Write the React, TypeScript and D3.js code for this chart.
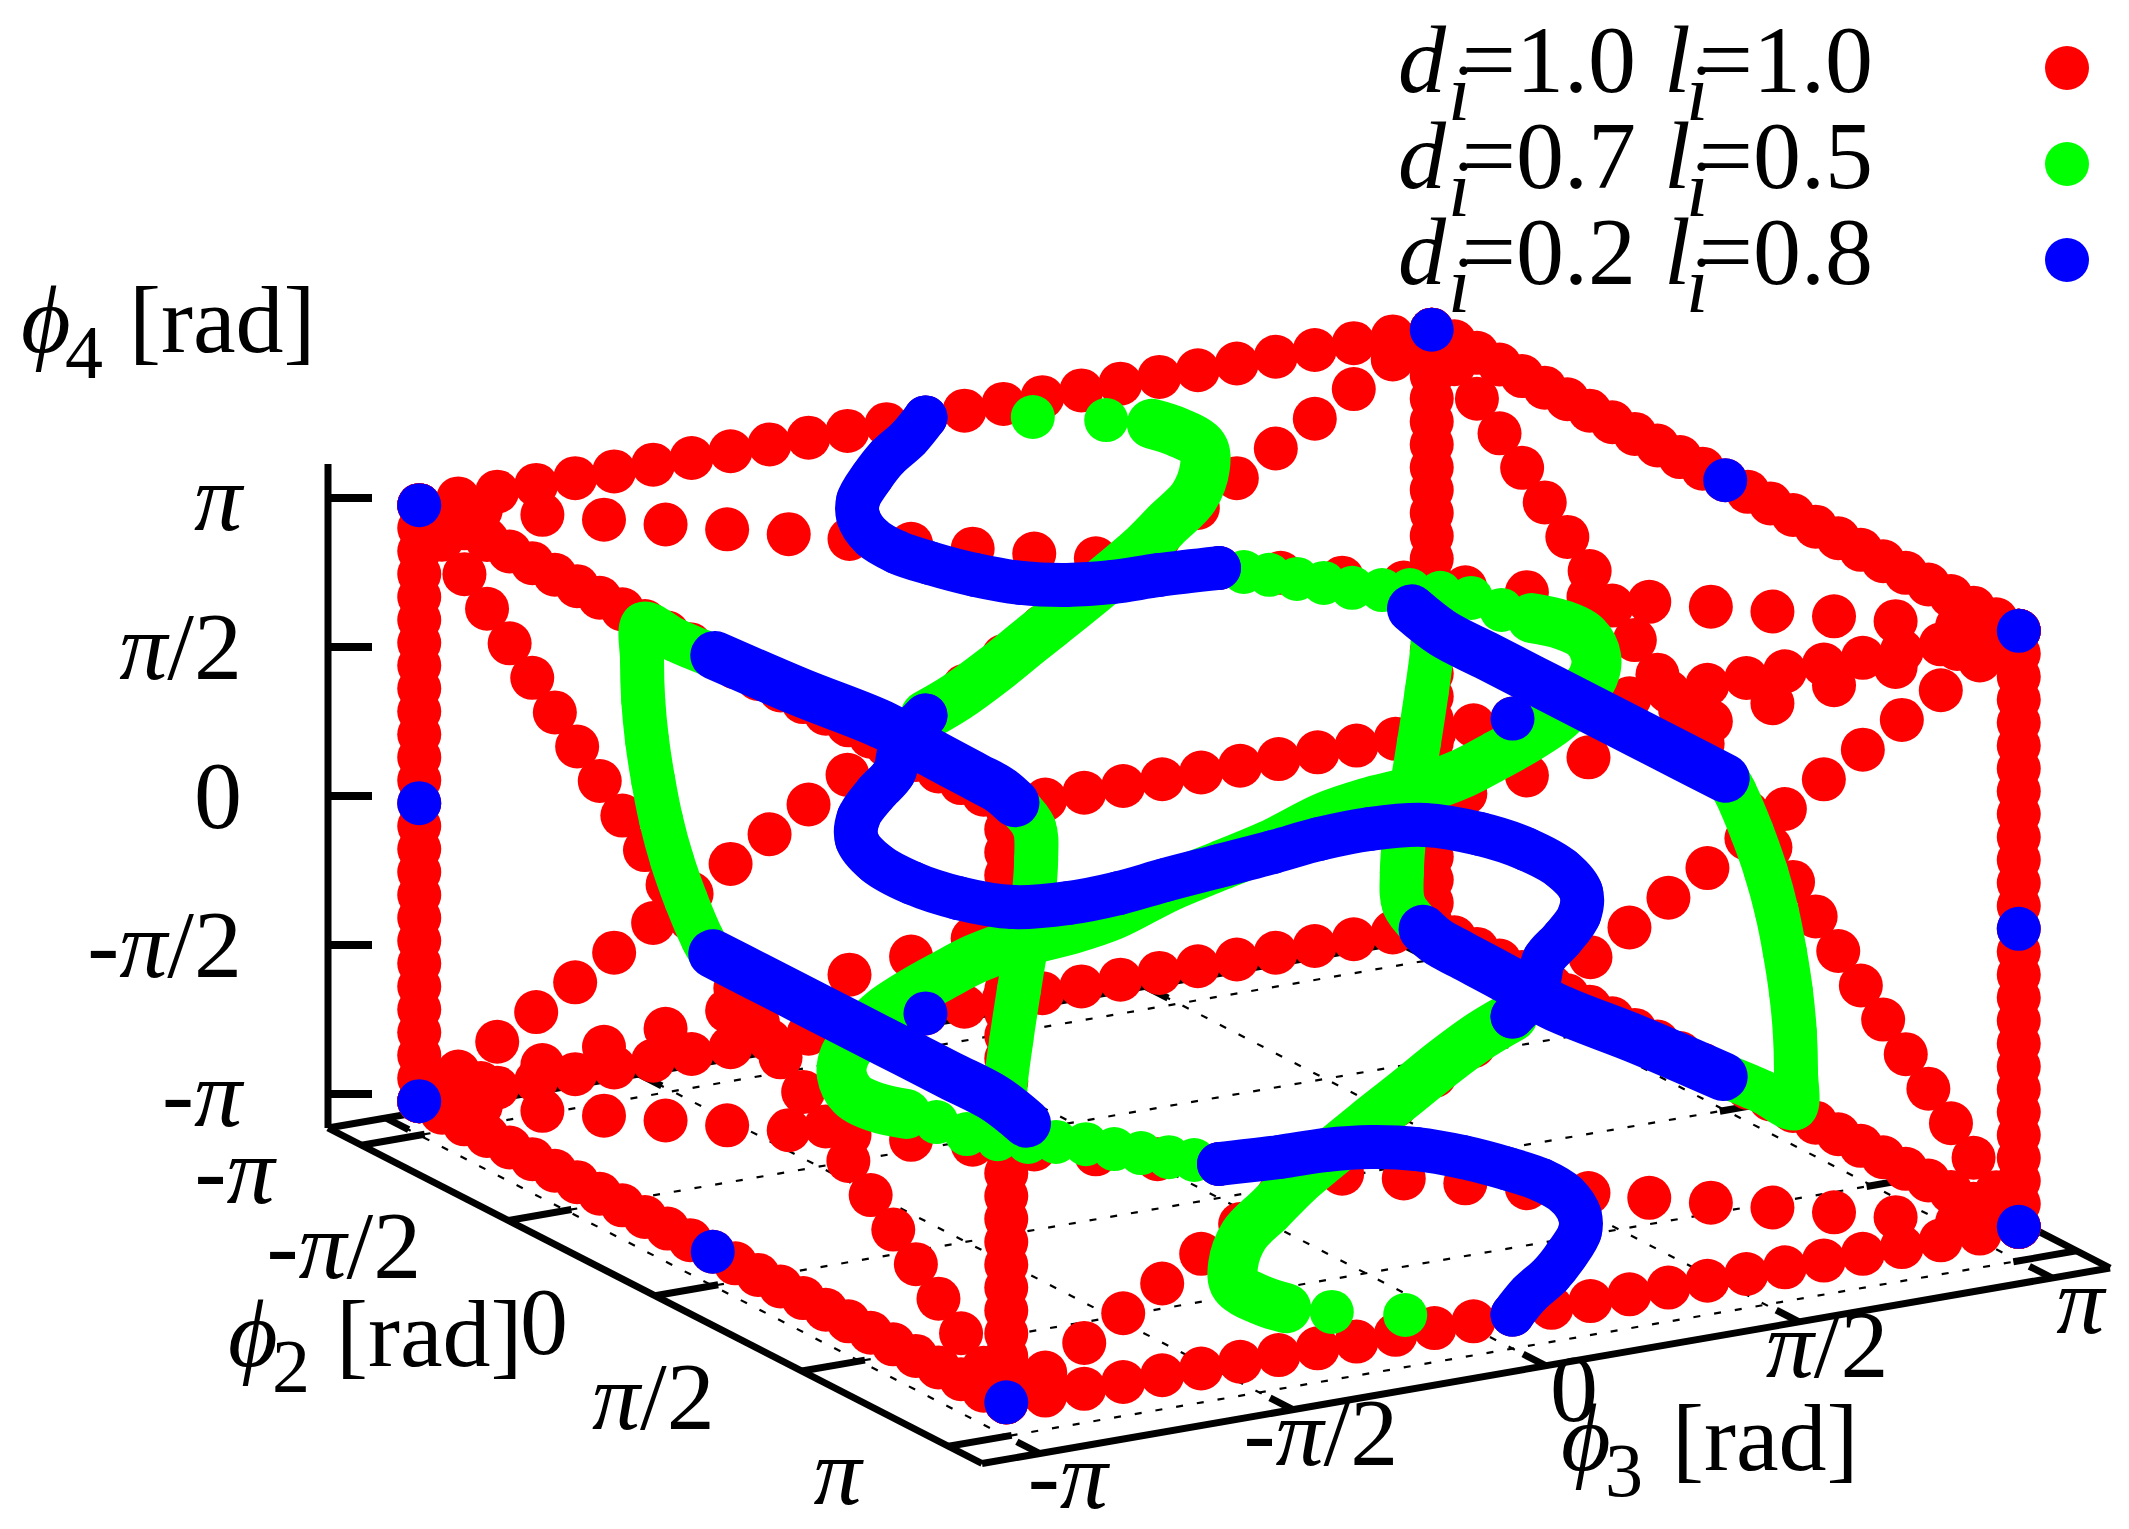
import React from 'react';
import * as d3 from 'd3';

// all angles below are in units of pi: [phi2, phi3, phi4]
type P3 = number[];

const width = 2129;
const height = 1529;
const axisMax = 3.5 / Math.PI;

const tickValues = [-1, -0.5, 0, 0.5, 1];
const tickLabels = ['-π', '-π/2', '0', 'π/2', 'π'];

const legendD = ['1.0', '0.7', '0.2'];
const legendL = ['1.0', '0.5', '0.8'];
const seriesColors = ['#ff0000', '#00ff00', '#0000ff'];

// sampling of the d=1.0, l=1.0 solution branches
const redAngles = [
  -1, -0.923, -0.846, -0.769, -0.692, -0.615, -0.538, -0.462, -0.385, -0.308, -0.231, -0.154, -0.077,
  0, 0.077, 0.154, 0.231, 0.308, 0.385, 0.462, 0.538, 0.615, 0.692, 0.769, 0.846, 0.923, 1,
];
// each branch: fixed value, or 't' / '-t' for the running angle
const redBranches: (number | string)[][] = [
  [-1, -1, 't'], [1, -1, 't'], [-1, 1, 't'], [1, 1, 't'],
  ['t', -1, 1], ['t', 1, 1], ['t', -1, -1], ['t', 1, -1],
  [-1, 't', 1], [1, 't', 1], [-1, 't', -1], [1, 't', -1],
  [-1, 't', 't'], [1, 't', 't'],
  ['t', -1, '-t'], ['t', 1, '-t'],
  ['t', 't', 1], ['t', 't', -1],
  ['t', 't', 't'],
];

// d=0.7, l=0.5
const greenDots: P3[] = [
  [-1, 0.212, 0.939], [-1, 0.357, 0.886],
  [1, -0.212, -0.939], [1, -0.357, -0.886],
  [0, 0.049, 0.972], [0, 0.099, 0.948], [0, 0.154, 0.918], [0, 0.207, 0.889], [0, 0.263, 0.856],
  [0, 0.322, 0.831], [0, 0.377, 0.815], [0, 0.437, 0.788], [0, 0.498, 0.753], [0, 0.558, 0.695],
  [0, 0.618, 0.65],
  [0, -0.049, -0.972], [0, -0.099, -0.948], [0, -0.154, -0.918], [0, -0.207, -0.889], [0, -0.263, -0.856],
  [0, -0.322, -0.831], [0, -0.377, -0.815], [0, -0.437, -0.788], [0, -0.498, -0.753], [0, -0.558, -0.695],
  [0, -0.618, -0.65],
];
const greenBackUpper: P3[] = [
  [-1, 0.447, 0.847], [-1, 0.498, 0.804], [-1, 0.548, 0.739], [-1, 0.552, 0.671], [-1, 0.53, 0.577],
  [-1, 0.479, 0.505], [-1, 0.426, 0.43], [-1, 0.363, 0.358], [-1, 0.29, 0.278], [-1, 0.208, 0.192],
  [-1, 0.135, 0.113], [-1, 0.062, 0.044], [-1, 0, 0],
];
const greenFrontLower: P3[] = [
  [1, -0.447, -0.847], [1, -0.498, -0.804], [1, -0.548, -0.739], [1, -0.552, -0.671], [1, -0.53, -0.577],
  [1, -0.479, -0.505], [1, -0.426, -0.43], [1, -0.363, -0.358], [1, -0.29, -0.278], [1, -0.208, -0.192],
  [1, -0.135, -0.113], [1, -0.062, -0.044], [1, 0, 0],
];
const greenMidPlane: P3[] = [
  [0, -0.618, -0.65], [0, -0.679, -0.609], [0, -0.725, -0.555], [0, -0.745, -0.482], [0, -0.739, -0.417],
  [0, -0.704, -0.35], [0, -0.664, -0.295], [0, -0.603, -0.245], [0, -0.543, -0.206], [0, -0.482, -0.17],
  [0, -0.391, -0.14], [0, -0.29, -0.126], [0, -0.209, -0.103], [0, -0.1, -0.041], [0, 0, 0],
  [0, 0.1, 0.041], [0, 0.209, 0.103], [0, 0.29, 0.126], [0, 0.391, 0.14], [0, 0.482, 0.17],
  [0, 0.543, 0.206], [0, 0.603, 0.245], [0, 0.664, 0.295], [0, 0.704, 0.35], [0, 0.739, 0.417],
  [0, 0.745, 0.482], [0, 0.725, 0.555], [0, 0.679, 0.609], [0, 0.618, 0.65],
];
const greenLeftFace: P3[] = [
  [0, -1, 1], [-0.128, -1, 0.988], [-0.237, -1, 0.987], [-0.241, -1, 0.864], [-0.237, -1, 0.732],
  [-0.224, -1, 0.604], [-0.203, -1, 0.48], [-0.176, -1, 0.36], [-0.139, -1, 0.244], [-0.091, -1, 0.134],
  [-0.033, -1, 0.029], [-0.01, -1, 0],
];
const greenRightFace: P3[] = [
  [0, 1, -1], [0.128, 1, -0.988], [0.237, 1, -0.987], [0.241, 1, -0.864], [0.237, 1, -0.732],
  [0.224, 1, -0.604], [0.203, 1, -0.48], [0.176, 1, -0.36], [0.139, 1, -0.244], [0.091, 1, -0.134],
  [0.033, 1, -0.029], [0.01, 1, 0],
];
const greenFrontEdge: P3[] = [
  [1, -0.98, 1], [1, -0.945, 0.914], [1, -0.941, 0.803], [1, -0.947, 0.67], [1, -0.959, 0.539],
  [1, -0.975, 0.376], [1, -0.99, 0.213], [1, -1.002, 0.049], [1, -1, 0],
];
const greenBackEdge: P3[] = [
  [-1, 0.98, -1], [-1, 0.945, -0.914], [-1, 0.941, -0.803], [-1, 0.947, -0.67], [-1, 0.959, -0.539],
  [-1, 0.975, -0.376], [-1, 0.99, -0.213], [-1, 1.002, -0.049], [-1, 1, 0],
];

// d=0.2, l=0.8
const blueDots: P3[] = [
  [-1, -1, 1], [-1, -1, 0], [-1, -1, -1], [1, -1, -1], [0, -1, -1], [-1, 1, 1],
  [0, 1, 1], [1, 1, 1], [1, 1, 0], [1, 1, -1], [1, 0, 1], [-1, 0, -1],
];
const blueTop: P3[] = [
  [-1, 0, 1], [-0.912, -0.084, 1], [-0.836, -0.17, 1], [-0.75, -0.251, 1], [-0.648, -0.337, 1],
  [-0.563, -0.386, 1], [-0.452, -0.424, 1], [-0.356, -0.43, 1], [-0.274, -0.413, 1], [-0.175, -0.38, 1],
  [-0.096, -0.335, 1], [-0.047, -0.274, 1], [-0.022, -0.197, 1], [-0.017, -0.109, 1], [0, 0, 1],
];
const blueBottom: P3[] = [
  [1, 0, -1], [0.912, 0.084, -1], [0.836, 0.17, -1], [0.75, 0.251, -1], [0.648, 0.337, -1],
  [0.563, 0.386, -1], [0.452, 0.424, -1], [0.356, 0.43, -1], [0.274, 0.413, -1], [0.175, 0.38, -1],
  [0.096, 0.335, -1], [0.047, 0.274, -1], [0.022, 0.197, -1], [0.017, 0.109, -1], [0, 0, -1],
];
const blueMiddle: P3[] = [
  [-1, 0, 0], [-0.884, -0.114, 0], [-0.742, -0.212, 0], [-0.657, -0.297, 0], [-0.553, -0.391, 0],
  [-0.44, -0.46, 0], [-0.31, -0.498, 0], [-0.18, -0.502, 0], [-0.065, -0.477, 0], [0.027, -0.422, 0],
  [0.054, -0.329, 0], [0.048, -0.226, 0], [0.023, -0.12, 0], [0, 0, 0],
  [-0.023, 0.12, 0], [-0.048, 0.226, 0], [-0.054, 0.329, 0], [-0.027, 0.422, 0], [0.065, 0.477, 0],
  [0.18, 0.502, 0], [0.31, 0.498, 0], [0.44, 0.46, 0], [0.553, 0.391, 0], [0.657, 0.297, 0],
  [0.742, 0.212, 0], [0.884, 0.114, 0], [1, 0, 0],
];
const blueUpperBand: P3[] = [
  [0, -0.996, 1], [0.256, -0.976, 1], [0.497, -0.948, 1], [0.664, -0.957, 1], [0.827, -0.96, 1],
  [0.914, -0.962, 1], [0.99, -0.977, 1],
];
const blueLowerBand: P3[] = [
  [0, -1, 0], [0.147, -1, 0], [0.366, -1, 0], [0.587, -1, 0], [0.805, -1, 0],
  [0.962, -1, 0], [1, -0.96, -0.075],
];
const blueBackUpperBand: P3[] = [
  [0, 1, 0], [-0.147, 1, 0], [-0.366, 1, 0], [-0.587, 1, 0], [-0.805, 1, 0],
  [-0.962, 1, 0], [-1, 0.96, 0.075],
];
const blueBackLowerBand: P3[] = [
  [0, 0.996, -1], [-0.256, 0.976, -1], [-0.497, 0.948, -1], [-0.664, 0.957, -1], [-0.827, 0.96, -1],
  [-0.914, 0.962, -1], [-0.99, 0.977, -1],
];

const greenTubes = [greenLeftFace, greenRightFace, greenFrontEdge, greenBackEdge];
const greenWideTubes = [greenBackUpper, greenFrontLower, greenMidPlane];
const blueTubes = [blueTop, blueBottom, blueMiddle];
const blueBands = [blueUpperBand, blueLowerBand, blueBackUpperBand, blueBackLowerBand];

// gnuplot style view: three linear scales per axis, added together
const domain = [-axisMax, axisMax];
const x2 = d3.scaleLinear().domain(domain).range([0, 654]);
const y2 = d3.scaleLinear().domain(domain).range([0, 335.5]);
const x3 = d3.scaleLinear().domain(domain).range([0, 1128]);
const y3 = d3.scaleLinear().domain(domain).range([0, -195.5]);
const z4 = d3.scaleLinear().domain(domain).range([0, -664]);

const project = ([a, b, c]: P3): [number, number] => [
  328 + x2(a) + x3(b),
  1128 + y2(a) + y3(b) + z4(c),
];

const tube = d3.line<P3>()
  .x(d => project(d)[0])
  .y(d => project(d)[1])
  .curve(d3.curveCatmullRom.alpha(0.5));

const redPoints: P3[] = redBranches.flatMap(branch =>
  redAngles.map(t => branch.map(v => (v === 't' ? t : v === '-t' ? -t : (v as number))))
);

const dotRadius = 22;
const serif = '"Liberation Serif", "Times New Roman", serif';

function Txt({ x, y, size = 96, anchor = 'start', italic = false, children }: any) {
  return (
    <text
      x={x}
      y={y}
      fontFamily={serif}
      fontSize={size}
      textAnchor={anchor}
      fontStyle={italic ? 'italic' : 'normal'}
      fill="#000"
    >
      {children}
    </text>
  );
}

// pi is italic, the rest of the tick label is upright
function TickText({ label }: { label: string }) {
  return (
    <>
      {label.split('').map((ch, i) => (
        <tspan key={i} fontStyle={ch === 'π' ? 'italic' : 'normal'}>{ch}</tspan>
      ))}
    </>
  );
}

function Seg({ from, to, w = 7 }: any) {
  return <line x1={from[0]} y1={from[1]} x2={to[0]} y2={to[1]} stroke="#000" strokeWidth={w} />;
}

function AxisName({ x, y, sub, textX }: any) {
  return (
    <>
      <Txt x={x} y={y} italic>ϕ</Txt>
      <Txt x={x + 44} y={y + 26} size={76}>{sub}</Txt>
      <Txt x={textX} y={y}>[rad]</Txt>
    </>
  );
}

function Dots({ points, color }: { points: P3[]; color: string }) {
  return (
    <g fill={color}>
      {points.map((p, i) => {
        const [cx, cy] = project(p);
        return <circle key={i} cx={cx} cy={cy} r={dotRadius} />;
      })}
    </g>
  );
}

function Tubes({ runs, color, thick = dotRadius * 2 }: { runs: P3[][]; color: string; thick?: number }) {
  return (
    <g>
      {runs.map((run, i) => (
        <g key={i}>
          <path
            d={tube(run) || ''}
            fill="none"
            stroke={color}
            strokeWidth={thick}
            strokeLinecap="round"
            strokeLinejoin="round"
          />
          <Dots points={run} color={color} />
        </g>
      ))}
    </g>
  );
}

export default function App() {
  const R = axisMax;
  const legendY = [92, 188, 284];
  return (
    <svg
      width={width}
      height={height}
      style={{ position: 'absolute', left: 0, top: 0, background: '#fff' }}
    >
      {/* floor grid */}
      <g stroke="#000" strokeWidth={2.2} strokeDasharray="7 14">
        {tickValues.map(v => {
          const [ax, ay] = project([v, -R, -R]);
          const [bx, by] = project([v, R, -R]);
          const [cx, cy] = project([-R, v, -R]);
          const [dx, dy] = project([R, v, -R]);
          return (
            <g key={v}>
              <line x1={ax} y1={ay} x2={bx} y2={by} />
              <line x1={cx} y1={cy} x2={dx} y2={dy} />
            </g>
          );
        })}
      </g>

      {/* floor border and z axis */}
      <Seg from={project([-R, -R, -R])} to={project([R, -R, -R])} />
      <Seg from={project([R, -R, -R])} to={project([R, R, -R])} />
      <Seg from={project([R, R, -R])} to={project([-R, R, -R])} />
      <Seg from={project([-R, R, -R])} to={project([-R, -R, -R])} />
      <Seg from={project([-R, -R, -R])} to={project([-R, -R, R])} />

      {tickValues.map((v, i) => {
        const zt = project([-R, -R, v]);
        return (
          <g key={v}>
            <Seg from={project([v, -R, -R])} to={project([v, -R + 0.056 * 2 * R, -R])} />
            <Seg from={project([v, R, -R])} to={project([v, R - 0.056 * 2 * R, -R])} />
            <Seg from={project([R, v, -R])} to={project([R - 0.035 * 2 * R, v, -R])} />
            <Seg from={project([-R, v, -R])} to={project([-R + 0.035 * 2 * R, v, -R])} />
            <Seg from={zt} to={[zt[0] + 44, zt[1]]} w={8} />
            <Txt x={242} y={zt[1] + 32} anchor="end"><TickText label={tickLabels[i]} /></Txt>
            <Txt x={project([v, -R, -R])[0] - 87} y={project([v, -R, -R])[1] + 58} anchor="end">
              <TickText label={tickLabels[i]} />
            </Txt>
            <Txt x={project([R, v, -R])[0] + 28} y={project([R, v, -R])[1] + 55} anchor="middle">
              <TickText label={tickLabels[i]} />
            </Txt>
          </g>
        );
      })}

      <AxisName x={21} y={352} sub="4" textX={129} />
      <AxisName x={228} y={1366} sub="2" textX={336} />
      <AxisName x={1561} y={1470} sub="3" textX={1672} />

      {/* series, in plotting order */}
      <Dots points={redPoints} color={seriesColors[0]} />
      <Dots points={greenDots} color={seriesColors[1]} />
      <Tubes runs={greenTubes} color={seriesColors[1]} />
      <Tubes runs={greenWideTubes} color={seriesColors[1]} thick={50} />
      <Tubes runs={blueTubes} color={seriesColors[2]} />
      <Tubes runs={blueBands} color={seriesColors[2]} thick={49} />
      <Dots points={blueDots} color={seriesColors[2]} />

      {/* legend */}
      {legendD.map((d, i) => (
        <g key={d}>
          <Txt x={1398} y={legendY[i]} italic>d</Txt>
          <Txt x={1448} y={legendY[i] + 28} size={80} italic>i</Txt>
          <Txt x={1636} y={legendY[i]} anchor="end">={d}</Txt>
          <Txt x={1664} y={legendY[i]} italic>l</Txt>
          <Txt x={1686} y={legendY[i] + 28} size={80} italic>i</Txt>
          <Txt x={1873} y={legendY[i]} anchor="end">={legendL[i]}</Txt>
          <circle cx={2067} cy={legendY[i] - 24} r={dotRadius} fill={seriesColors[i]} />
        </g>
      ))}
    </svg>
  );
}
